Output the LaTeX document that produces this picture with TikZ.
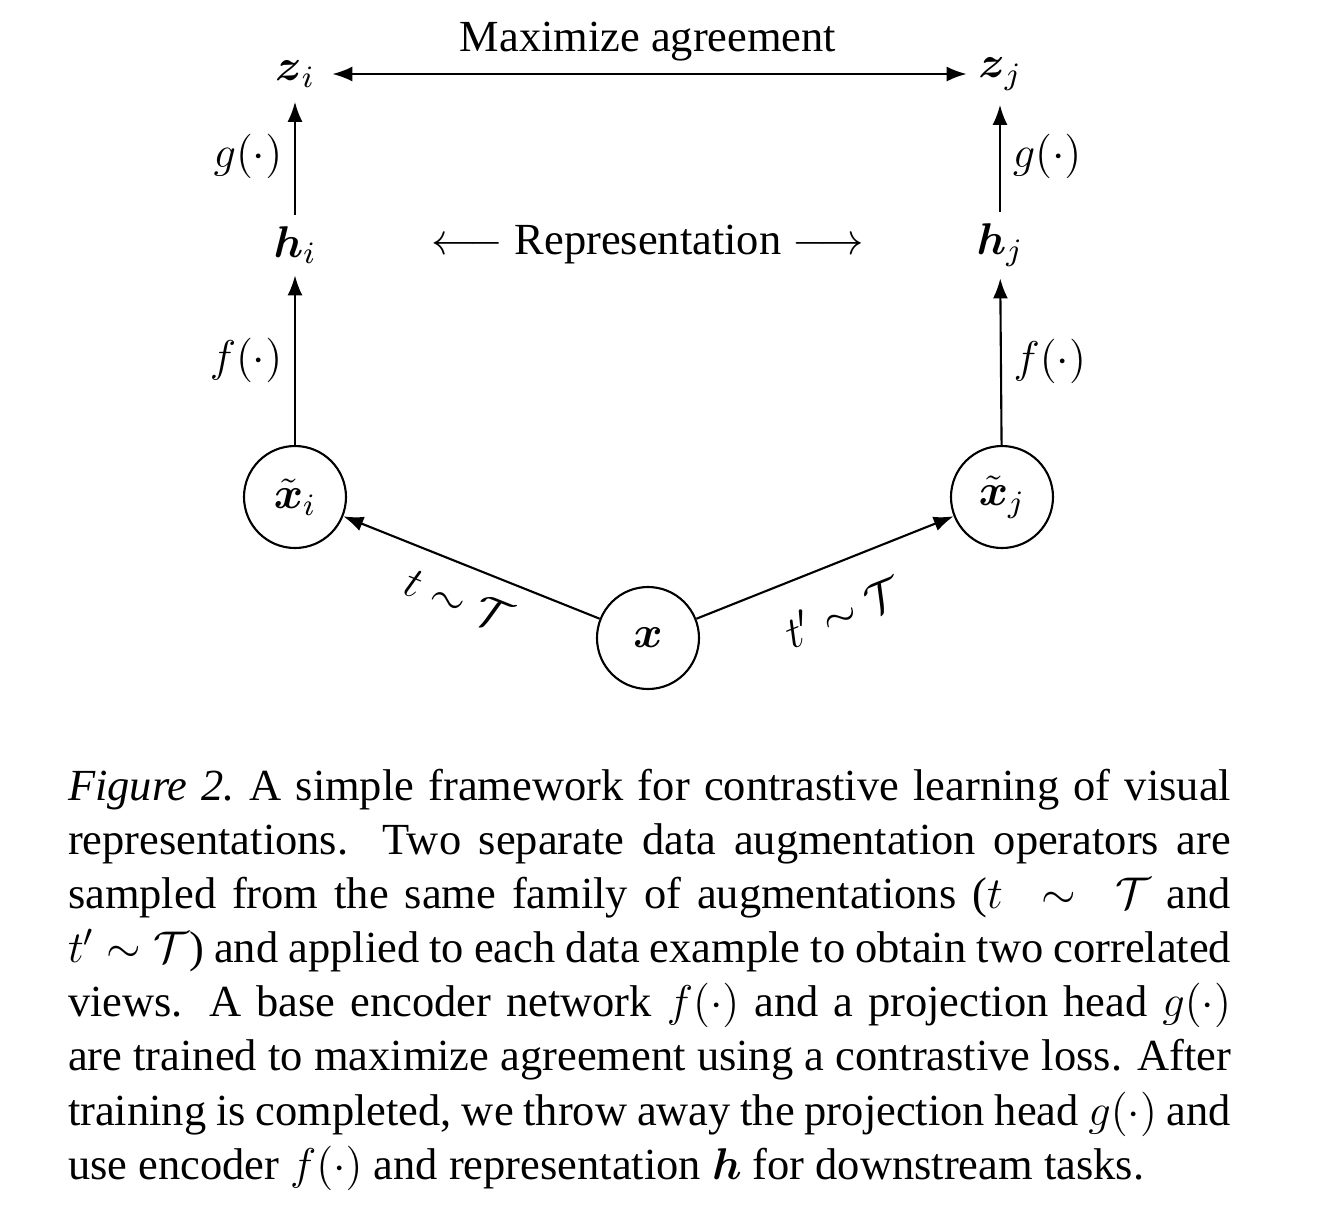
\RequirePackage{fix-cm}
\documentclass[tikz,border=0pt]{standalone}
\usepackage{amsmath}
\usepackage{amssymb}
\usepackage{fontspec}
\setmainfont{Liberation Serif}
\usepackage{tikz}
\usetikzlibrary{arrows.meta}

\begin{document}
\begin{tikzpicture}[line width=0.6pt,
        >={Latex[length=2mm, width=1.5mm]},
        font=\fontsize{12.65}{15.4}\selectfont,
        var/.style={inner sep=3pt},
        view/.style={circle, draw, minimum size=1.02cm, inner sep=0pt},
        caption/.style={anchor=north west, inner sep=0pt, text width=11.63cm, align=justify}]
        \useasboundingbox (0, 0) rectangle (13.44, -12.26);

        \node[var] (zi) at (2.95, -0.74) {$\boldsymbol{z}_i$};
        \node[var] (zj) at (10.00, -0.74) {$\boldsymbol{z}_j$};
        \node[var] (hi) at (2.95, -2.45) {$\boldsymbol{h}_i$};
        \node[var] (hj) at (10.00, -2.45) {$\boldsymbol{h}_j$};
        \node[view] (xi) at (2.95, -4.97) {$\tilde{\boldsymbol{x}}_i$};
        \node[view] (xj) at (10.02, -4.97) {$\tilde{\boldsymbol{x}}_j$};
        \node[view] (x) at (6.48, -6.38) {$\boldsymbol{x}$};

        \node (agree) at (6.48, -0.42) {Maximize agreement};
        \node (repr) at (6.48, -2.45) {$\longleftarrow$ Representation $\longrightarrow$};

        \draw[<->, shorten <=0.06cm] (zi) -- (zj);
        \draw[->, shorten >=0.03cm] (hi) -- (zi) node[midway, left] {$g(\cdot)$};
        \draw[->, shorten >=0.03cm] (hj) -- (zj) node[midway, right] {$g(\cdot)$};
        \draw[->] (xi) -- (hi) node[midway, left] {$f(\cdot)$};
        \draw[->] (xj) -- (hj) node[midway, right] {$f(\cdot)$};
        \draw[->] (x) -- (xi) node[midway, sloped, below=2pt] {$t \sim \mathcal{T}$};
        \draw[->] (x) -- (xj) node[midway, sloped, below=5pt] {$t' \sim \mathcal{T}$};

        \node[caption] (cap) at (0.67, -7.68) {\textit{Figure 2.}\ A simple framework for contrastive learning of visual\linebreak
            representations.  Two separate data augmentation operators are\linebreak
            sampled from the same family of augmentations ($t\ \sim\ \mathcal{T}$ and\linebreak
            $t' \sim \mathcal{T}$) and applied to each data example to obtain two correlated\linebreak
            views.  A base encoder network $f(\cdot)$ and a projection head $g(\cdot)$\linebreak
            are trained to maximize agreement using a contrastive loss. After\linebreak
            training is completed, we throw away the projection head $g(\cdot)$ and\linebreak
            use encoder $f(\cdot)$ and representation $\boldsymbol{h}$ for downstream tasks.};
    \end{tikzpicture}
\end{document}
